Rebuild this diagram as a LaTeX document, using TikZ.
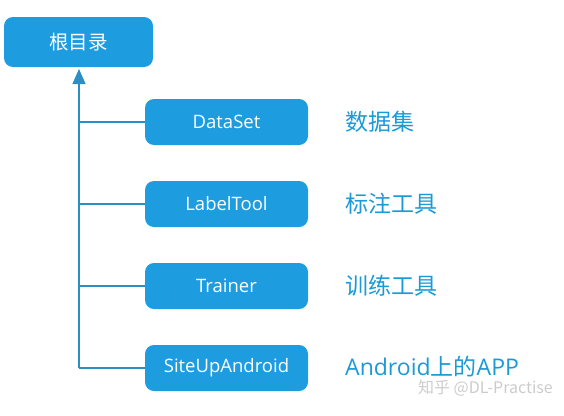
\documentclass[tikz,border=0pt]{standalone}
\usepackage{fontspec}
\setmainfont{Open Sans}
\newfontfamily\cjk{Noto Sans CJK SC}
\usetikzlibrary{arrows.meta}
\definecolor{boxblue}{HTML}{1D9CE0}
\definecolor{lineblue}{HTML}{2B8FC6}
\definecolor{labelblue}{HTML}{1A9AD6}
\definecolor{wmgray}{HTML}{CCCCCC}
\tikzset{
  box/.style={draw=none, fill=boxblue, rounded corners=9pt, text=white, font=\fontsize{18.5}{22}\selectfont, minimum height=46pt, inner sep=0pt},
  rootbox/.style={box, minimum width=149pt, minimum height=50pt},
  childbox/.style={box, minimum width=163pt},
  lbl/.style={anchor=west, text=labelblue, font=\cjk\fontsize{23}{26}\selectfont, inner sep=0pt},
  conn/.style={draw=lineblue, line width=1.1pt}
}
\begin{document}
\begin{tikzpicture}[x=1pt,y=-1pt]
\useasboundingbox (0,0) rectangle (564,415);
\node[rootbox, font=\cjk\fontsize{19.5}{22}\selectfont] (root) at (78.5,42) {根目录};
\node[childbox] (c1) at (226.5,122) {DataSet};
\node[childbox] (c2) at (226.5,204) {LabelTool};
\node[childbox] (c3) at (226.5,286) {Trainer};
\node[childbox] (c4) at (226.5,368) {SiteUpAndroid};
\node[lbl] (l1) at (345,122) {数据集};
\node[lbl] (l2) at (345,204) {标注工具};
\node[lbl] (l3) at (345,286) {训练工具};
\node[lbl, font=\fontsize{23}{26}\selectfont] (l4) at (345,367) {Android{\cjk 上的}APP};
\coordinate (top) at (79,69);
\coordinate (bot) at (79,368);
\draw[conn, -{Triangle[width=13pt,length=15pt]}] (bot) -- (top);
\draw[conn] (79,122) -- (c1.west);
\draw[conn] (79,204) -- (c2.west);
\draw[conn] (79,286) -- (c3.west);
\draw[conn] (bot) -- (c4.west);
\node[anchor=east, text=wmgray, font=\cjk\fontsize{16}{18}\selectfont, inner sep=0pt] (wm) at (553,388) {知乎 @DL-Practise};
\end{tikzpicture}
\end{document}
